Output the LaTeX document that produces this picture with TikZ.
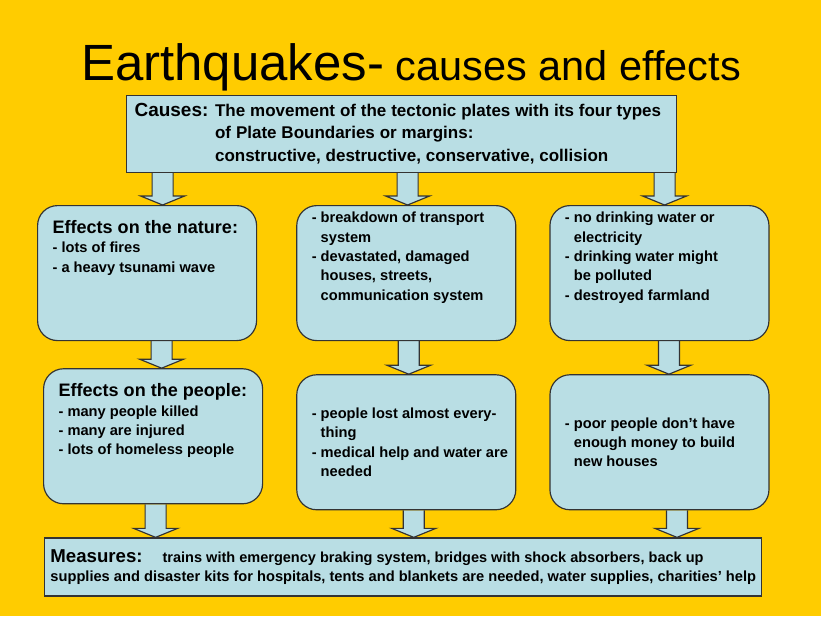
\documentclass[tikz,border=0pt]{standalone}
\usepackage{fontspec}
\setmainfont{Liberation Sans}
\usetikzlibrary{positioning,calc}

\definecolor{slidebg}{HTML}{FFCC00}
\definecolor{boxfill}{HTML}{B9DEE4}
\definecolor{boxline}{HTML}{333333}

\pgfdeclarelayer{background}
\pgfsetlayers{background,main}

\newcommand{\bodyfont}{\bfseries\fontsize{12.5pt}{16.5pt}\selectfont}
\newcommand{\headfont}{\fontsize{15.4pt}{16.5pt}\selectfont}
\newcommand{\dash}{\par\hangindent=0.611em\hangafter=1 -\ }
\newcommand{\boxbody}[2][t]{\parbox[c][4.05cm][#1]{6.57cm}{\raggedright\leftskip=0.45cm #2}}
% block arrow from the bottom of #2 to the top of #3, shifted by #1
\newcommand{\fatarrow}[3][0]{%
  \path ($(#2.south)+(#1,0)$) coordinate (tail);
  \path (tail |- #3.north) coordinate (tip);
  \filldraw[blockarrow] ($(tail)+(-10.5,0)$) -- ($(tip)+(-10.5,-9)$) -- ($(tip)+(-22,-9)$) -- (tip)
    -- ($(tip)+(22,-9)$) -- ($(tip)+(10.5,-9)$) -- ($(tail)+(10.5,0)$);
}

\begin{document}
\begin{tikzpicture}[x=0.03cm, y=-0.03cm,
  panel/.style={draw=boxline, fill=boxfill, line width=1pt, rounded corners=0.6cm, inner sep=0pt, font=\bodyfont},
  banner/.style={draw=boxline, fill=boxfill, line width=1pt, inner sep=0pt, align=left, font=\bodyfont},
  blockarrow/.style={draw=boxline, fill=boxfill, line width=1pt, line join=miter}]
  \useasboundingbox (0,0) rectangle (821,616);

  \node (title) [anchor=base] at (411,80) {\fontsize{43.5pt}{50pt}\selectfont Earthquakes-{\fontsize{35.4pt}{40pt}\selectfont\ causes and effects}};

  \node (causes) [banner, anchor=north west, minimum height=2.31cm, text width=16.02cm, inner xsep=0.24cm] at (126,95)
    {\fontsize{14.5pt}{19.2pt}\selectfont\begin{tabular}{@{}l@{\hspace{0.2cm}}l@{}}
      {\fontsize{16.2pt}{19.2pt}\selectfont Causes:} & The movement of the tectonic plates with its four types\\
      & of Plate Boundaries or margins:\\
      & constructive, destructive, conservative, collision
    \end{tabular}};

  \node (nature) [panel, anchor=north west] at (37,205)
    {\boxbody{\vspace*{0.45cm}{\headfont Effects on the nature:}\dash lots of fires\dash a heavy tsunami wave}};
  \node (transport) [panel, right=1.17cm of nature]
    {\boxbody{\vspace*{0.2cm}\dash breakdown of transport\newline system\dash devastated, damaged\newline houses, streets,\newline communication system}};
  \node (water) [panel, right=0.99cm of transport]
    {\boxbody{\vspace*{0.2cm}\dash no drinking water or\newline electricity\dash drinking water might\newline be polluted\dash destroyed farmland}};

  \node (people) [panel, below=0.81cm of nature, xshift=0.18cm]
    {\boxbody{\vspace*{0.45cm}{\headfont Effects on the people:}\dash many people killed\dash many are injured\dash lots of homeless people}};
  \node (losses) [panel, below=0.99cm of transport]
    {\boxbody[c]{\dash people lost almost every-\newline thing\dash medical help and water are\newline needed}};
  \node (money) [panel, below=0.99cm of water]
    {\boxbody[c]{\dash poor people don’t have\newline enough money to build\newline new houses}};

  \node (measures) [banner, below=0.81cm of losses, xshift=-0.09cm, minimum width=21.51cm, minimum height=1.74cm]
    {\fontsize{12.4pt}{18.8pt}\selectfont{\fontsize{15.9pt}{18.8pt}\selectfont Measures:}\hspace{0.6cm}trains with emergency braking system, bridges with shock absorbers, back up\\
     supplies and disaster kits for hospitals, tents and blankets are needed, water supplies, charities’ help};

  \begin{pgfonlayer}{background}
    \fill[slidebg] (0,0) rectangle (821,616);
    \fatarrow[-239]{causes}{nature}
    \fatarrow[6]{causes}{transport}
    \fatarrow[263]{causes}{water}
    \fatarrow[14.5]{nature}{people}
    \fatarrow[2.5]{transport}{losses}
    \fatarrow[9.5]{water}{money}
    \fatarrow[2.5]{people}{measures}
    \fatarrow[7.5]{losses}{measures}
    \fatarrow[17.5]{money}{measures}
  \end{pgfonlayer}
\end{tikzpicture}
\end{document}
